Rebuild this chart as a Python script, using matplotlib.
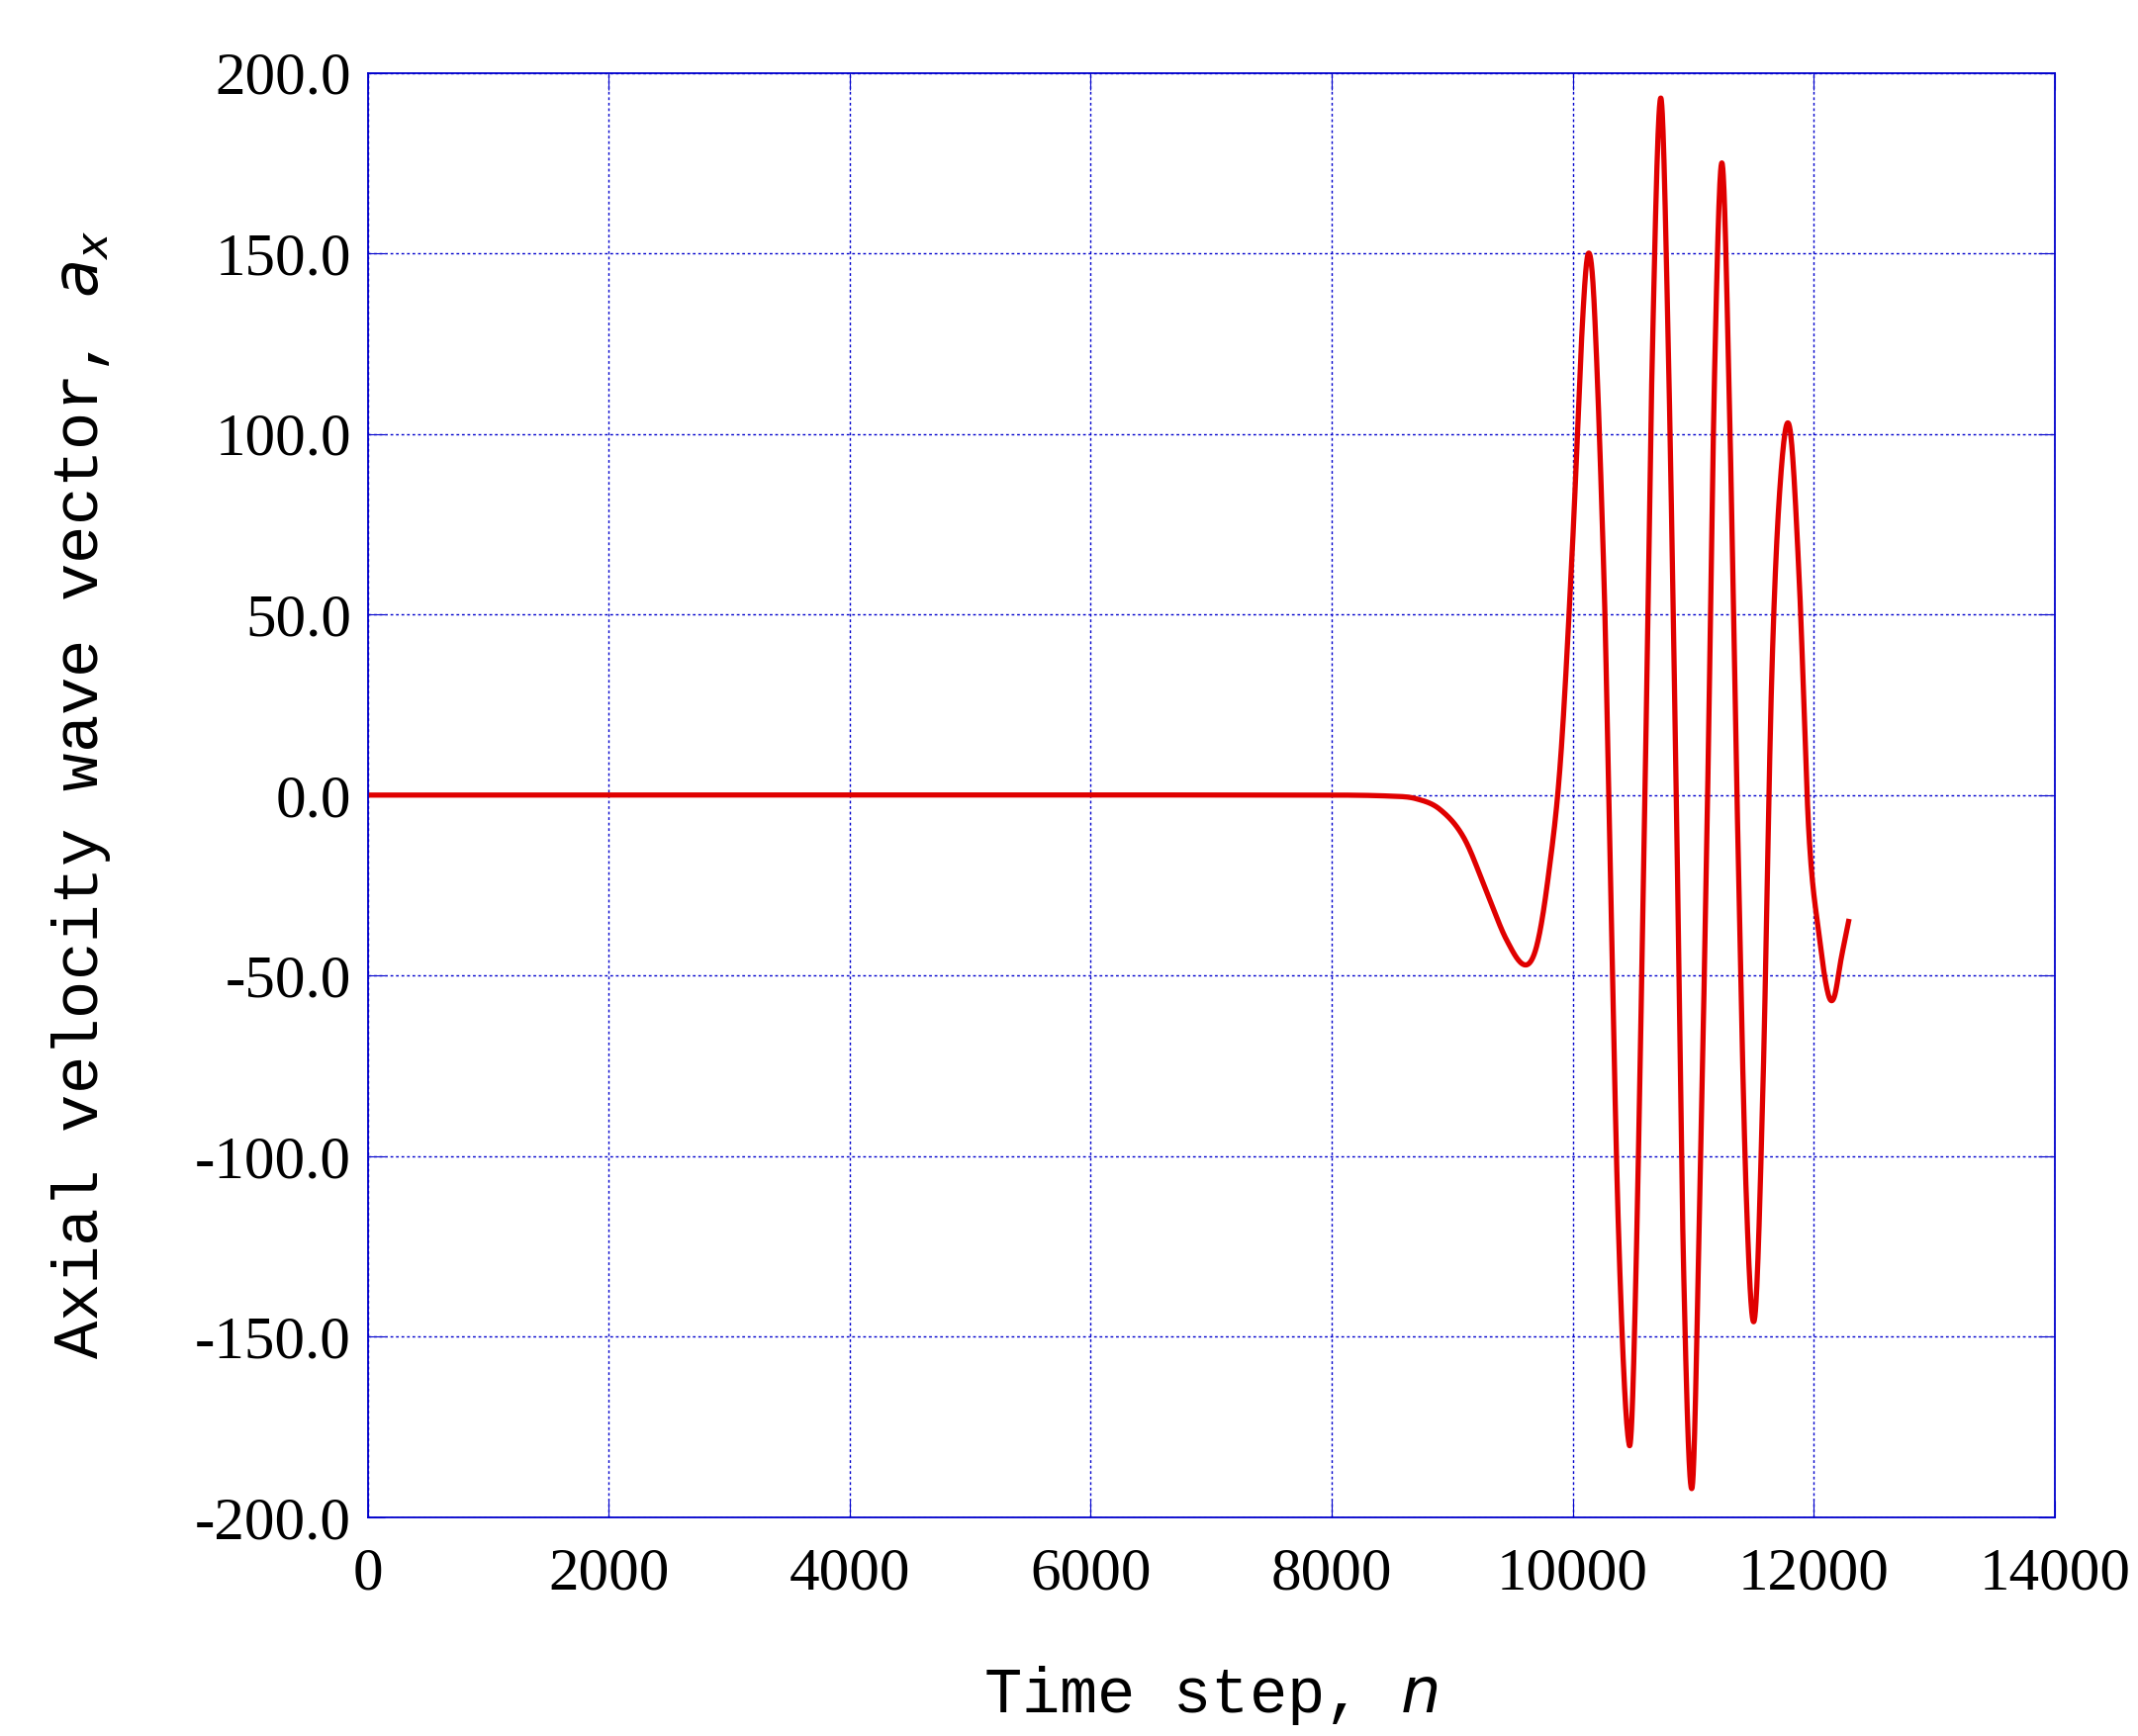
import numpy as np
import matplotlib
matplotlib.use("Agg")
import matplotlib.pyplot as plt

steps = [0, 8000, 8500, 8700, 8900, 9100, 9300, 9450, 9600, 9700, 9800, 9900, 10000, 10080,
         10130, 10180, 10260, 10300, 10380, 10470, 10520, 10600, 10660, 10730, 10790, 10860,
         10920, 10990, 11050, 11120, 11180, 11240, 11300, 11370, 11440, 11510, 11580, 11650,
         11720, 11800, 11880, 11960, 12050, 12120, 12170, 12230, 12290]
ax_vals = [0, 0, -0.3, -1, -4, -12, -28, -40, -47, -42, -22, 10, 70, 130,
           150, 135, 60, 0, -120, -180, -140, 0, 120, 193, 130, 0,
           -130, -192, -120, 0, 120, 175, 110, -10, -110, -145, -80, 30,
           85, 102, 60, -10, -40, -55, -56, -45, -35]

def hermite(xs, ys, n=30):
    x = np.array(xs, float); y = np.array(ys, float)
    m = np.zeros_like(y)
    m[1:-1] = (y[2:] - y[:-2]) / (x[2:] - x[:-2])
    m[0] = (y[1] - y[0]) / (x[1] - x[0]); m[-1] = (y[-1] - y[-2]) / (x[-1] - x[-2])
    ox, oy = [], []
    for i in range(len(x) - 1):
        h = x[i+1] - x[i]
        t = np.linspace(0, 1, n, endpoint=False)
        h00 = 2*t**3 - 3*t**2 + 1; h10 = t**3 - 2*t**2 + t
        h01 = -2*t**3 + 3*t**2; h11 = t**3 - t**2
        ox.extend(x[i] + t*h)
        oy.extend(h00*y[i] + h10*h*m[i] + h01*y[i+1] + h11*h*m[i+1])
    ox.append(x[-1]); oy.append(y[-1])
    return np.array(ox), np.array(oy)

sx, sy = hermite(steps, ax_vals)

fig = plt.figure(figsize=(21.61, 17.55), dpi=100)
ax = fig.add_axes([0.172, 0.126, 0.789, 0.832])
ax.plot(sx, sy, color="#e00000", lw=3.8)
ax.set_xlim(0, 14000)
ax.set_ylim(-200, 200)
ax.set_xticks(range(0, 14001, 2000))
ax.set_yticks(range(-200, 201, 50))
ax.set_yticklabels([f"{v:.1f}" for v in range(-200, 201, 50)])
ax.grid(True, color="#0000cc", linestyle=(0, (2, 2)), lw=1.0)
for s in ax.spines.values():
    s.set_color("#0000cc"); s.set_linewidth(1.3)
ax.tick_params(direction="in", length=12, color="#0000cc", top=True, right=True,
               labelsize=44, pad=12)
ax.tick_params(axis="x", pad=22)
for lab in ax.get_xticklabels() + ax.get_yticklabels():
    lab.set_family("Liberation Serif")
ax.set_xlabel(r"Time step, $\mathit{n}$", family="Liberation Mono", fontsize=46, labelpad=45)
ax.set_ylabel(r"Axial velocity wave vector, $\mathit{a}_{x}$", family="Liberation Mono",
              fontsize=46, labelpad=60)
fig.savefig("out.png", dpi=100)
